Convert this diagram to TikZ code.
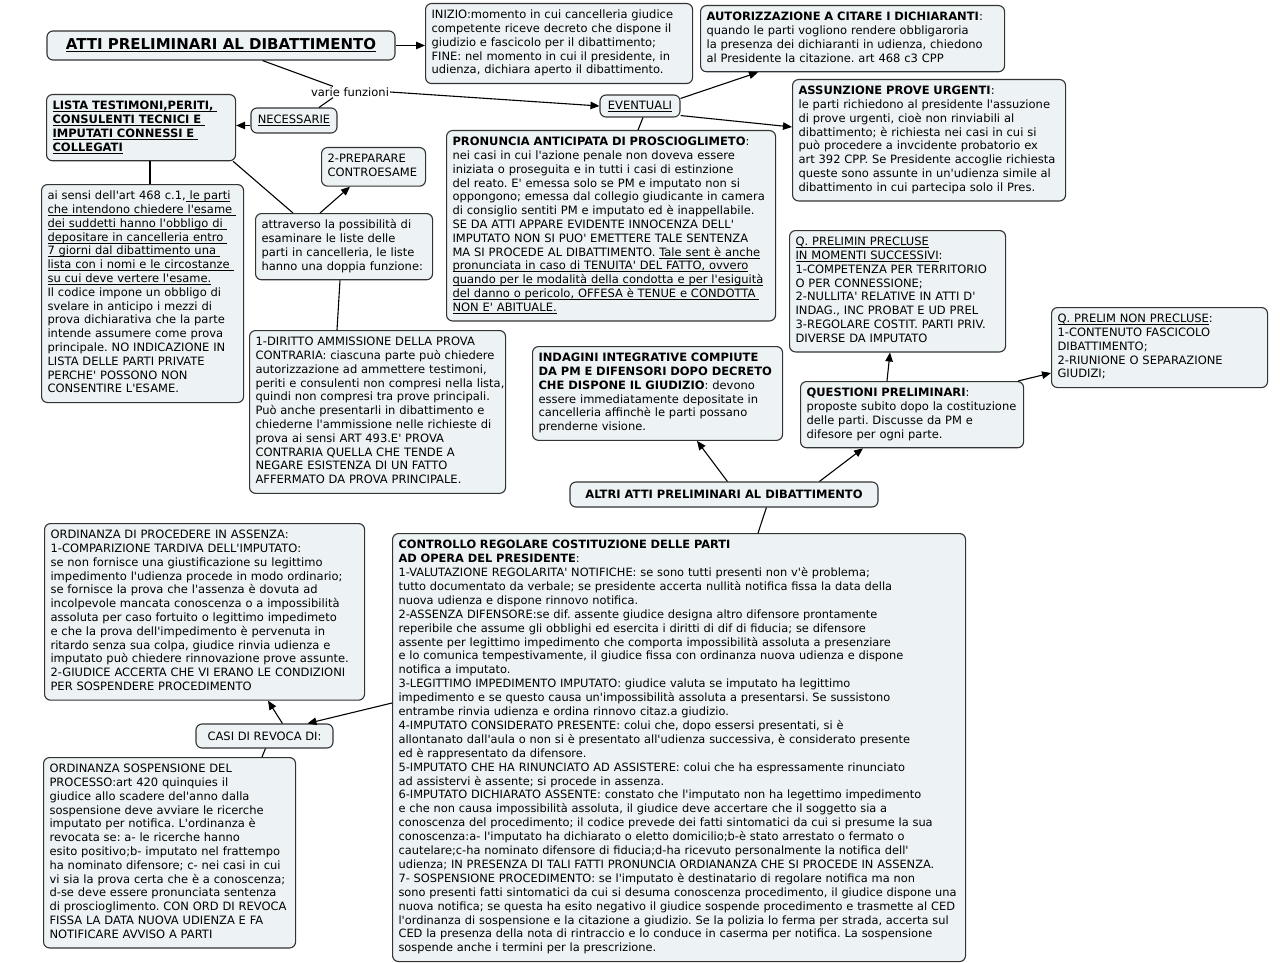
\documentclass[tikz,border=0pt]{standalone}
\usepackage{fontspec}
\setmainfont{DejaVu Sans}[Ligatures=TeXOff]
\usetikzlibrary{arrows.meta,calc}
\definecolor{boxfill}{HTML}{EDF2F4}
\definecolor{boxline}{HTML}{333333}
\frenchspacing
\newcommand\tb[1]{\begin{tabular}{@{}l@{}}#1\end{tabular}}
\newsavebox\ulbox
\newcommand\uln[1]{\sbox\ulbox{#1}\rlap{\rule[-2.2pt]{\wd\ulbox}{0.7pt}}\usebox\ulbox}
\tikzset{
 box/.style={draw=boxline, fill=boxfill, rounded corners=6pt, line width=1.1pt, inner xsep=6pt, inner ysep=5.5pt, align=left, anchor=north west, font=\fontsize{11.5}{13.8}\selectfont},
 sbox/.style={draw=boxline, fill=boxfill, rounded corners=6pt, line width=1.1pt, inner sep=2pt, font=\fontsize{11.5}{13.8}\selectfont},
 conn/.style={line width=1.1pt, draw=black},
 arr/.style={conn, -{Triangle[length=9pt,width=7.5pt]}},
}
\begin{document}
\begin{tikzpicture}[x=1pt,y=-1pt]
\useasboundingbox (0,0) rectangle (1280,963);
\fill[white] (0,0) rectangle (1280,963);

\node[sbox, minimum width=348pt, minimum height=29pt, font=\fontsize{15}{17}\selectfont\bfseries] (title) at (221,45.5) {\uln{ATTI PRELIMINARI AL DIBATTIMENTO}};

\node[box, text width=255pt] (inizio) at (425,3) {\tb{INIZIO:momento in cui cancelleria giudice\\
competente riceve decreto che dispone il\\
giudizio e fascicolo per il dibattimento;\\
FINE: nel momento in cui il presidente, in\\
udienza, dichiara aperto il dibattimento.}};

\node[box, text width=292pt] (autor) at (700,5) {\tb{\textbf{AUTORIZZAZIONE A CITARE I DICHIARANTI}:\\
quando le parti vogliono rendere obbligaroria\\
la presenza dei dichiaranti in udienza, chiedono\\
al Presidente la citazione. art 468 c3 CPP}};

\node[box, text width=261pt] (assunz) at (792,79) {\tb{\textbf{ASSUNZIONE PROVE URGENTI}:\\
le parti richiedono al presidente l'assuzione\\
di prove urgenti, cioè non rinviabili al\\
dibattimento; è richiesta nei casi in cui si\\
può procedere a invcidente probatorio ex\\
art 392 CPP. Se Presidente accoglie richiesta\\
queste sono assunte in un'udienza simile al\\
dibattimento in cui partecipa solo il Pres.}};

\node[font=\fontsize{11.5}{13.8}\selectfont, inner sep=1pt] (vf) at (350,92) {varie funzioni};

\node[sbox, minimum width=86pt, minimum height=25pt] (neces) at (294,120.5) {\uln{NECESSARIE}};

\node[box, text width=177pt] (lista) at (46,94) {\tb{\uln{\textbf{LISTA TESTIMONI,PERITI, }}\\
\uln{\textbf{CONSULENTI TECNICI E }}\\
\uln{\textbf{IMPUTATI CONNESSI E }}\\
\uln{\textbf{COLLEGATI}}}};

\node[sbox, minimum width=80pt, minimum height=22pt] (eventuali) at (640,106) {\uln{EVENTUALI}};

\node[box, text width=317pt] (pronuncia) at (446,130) {\tb{\textbf{PRONUNCIA ANTICIPATA DI PROSCIOGLIMETO}:\\
nei casi in cui l'azione penale non doveva essere\\
iniziata o proseguita e in tutti i casi di estinzione\\
del reato. E' emessa solo se PM e imputato non si\\
oppongono; emessa dal collegio giudicante in camera\\
di consiglio sentiti PM e imputato ed è inappellabile.\\
SE DA ATTI APPARE EVIDENTE INNOCENZA DELL'\\
IMPUTATO NON SI PUO' EMETTERE TALE SENTENZA\\
MA SI PROCEDE AL DIBATTIMENTO. \uln{Tale sent è anche}\\
\uln{pronunciata in caso di TENUITA' DEL FATTO, ovvero}\\
\uln{quando per le modalità della condotta e per l'esiguità}\\
\uln{del danno o pericolo, OFFESA è TENUE e CONDOTTA }\\
\uln{NON E' ABITUALE.}}};

\node[box, text width=190pt] (aisensi) at (41,184) {\tb{ai sensi dell'art 468 c.1,\uln{ le parti}\\
\uln{che intendono chiedere l'esame }\\
\uln{dei suddetti hanno l'obbligo di }\\
\uln{depositare in cancelleria entro }\\
\uln{7 giorni dal dibattimento una }\\
\uln{lista con i nomi e le circostanze }\\
\uln{su cui deve vertere l'esame.}\\
Il codice impone un obbligo di\\
svelare in anticipo i mezzi di\\
prova dichiarativa che la parte\\
intende assumere come prova\\
principale. NO INDICAZIONE IN\\
LISTA DELLE PARTI PRIVATE\\
PERCHE' POSSONO NON\\
CONSENTIRE L'ESAME.}};

\node[box, text width=92pt] (prep) at (321,147) {\tb{2-PREPARARE\\CONTROESAME}};

\node[box, text width=165pt] (attrav) at (255,213) {\tb{attraverso la possibilità di\\
esaminare le liste delle\\
parti in cancelleria, le liste\\
hanno una doppia funzione:}};

\node[box, text width=244pt] (diritto) at (249,330) {\tb{1-DIRITTO AMMISSIONE DELLA PROVA\\
CONTRARIA: ciascuna parte può chiedere\\
autorizzazione ad ammettere testimoni,\\
periti e consulenti non compresi nella lista,\\
quindi non compresi tra prove principali.\\
Può anche presentarli in dibattimento e\\
chiederne l'ammissione nelle richieste di\\
prova ai sensi ART 493.E' PROVA\\
CONTRARIA QUELLA CHE TENDE A\\
NEGARE ESISTENZA DI UN FATTO\\
AFFERMATO DA PROVA PRINCIPALE.}};

\node[box, text width=204pt] (qprec) at (789,230) {\tb{\uln{Q. PRELIMIN PRECLUSE}\\
\uln{IN MOMENTI SUCCESSIVI}:\\
1-COMPETENZA PER TERRITORIO\\
O PER CONNESSIONE;\\
2-NULLITA' RELATIVE IN ATTI D'\\
INDAG., INC PROBAT E UD PREL\\
3-REGOLARE COSTIT. PARTI PRIV.\\
DIVERSE DA IMPUTATO}};

\node[box, text width=204pt] (qnon) at (1051,307) {\tb{\uln{Q. PRELIM NON PRECLUSE}:\\
1-CONTENUTO FASCICOLO\\
DIBATTIMENTO;\\
2-RIUNIONE O SEPARAZIONE\\
GIUDIZI;}};

\node[box, text width=211pt] (quest) at (800,381) {\tb{\textbf{QUESTIONI PRELIMINARI}:\\
proposte subito dopo la costituzione\\
delle parti. Discusse da PM e\\
difesore per ogni parte.}};

\node[box, text width=238pt] (indag) at (532,346) {\tb{\textbf{INDAGINI INTEGRATIVE COMPIUTE}\\
\textbf{DA PM E DIFENSORI DOPO DECRETO}\\
\textbf{CHE DISPONE IL GIUDIZIO}: devono\\
essere immediatamente depositate in\\
cancelleria affinchè le parti possano\\
prenderne visione.}};

\node[sbox, minimum width=308pt, minimum height=25pt, font=\fontsize{11.5}{13.8}\selectfont\bfseries] (altri) at (724,494.5) {ALTRI ATTI PRELIMINARI AL DIBATTIMENTO};

\node[box, text width=561pt, font=\fontsize{11.4}{13.9}\selectfont] (controllo) at (392,533) {\tb{\textbf{CONTROLLO REGOLARE COSTITUZIONE DELLE PARTI}\\
\textbf{AD OPERA DEL PRESIDENTE}:\\
1-VALUTAZIONE REGOLARITA' NOTIFICHE: se sono tutti presenti non v'è problema;\\
tutto documentato da verbale; se presidente accerta nullità notifica fissa la data della\\
nuova udienza e dispone rinnovo notifica.\\
2-ASSENZA DIFENSORE:se dif. assente giudice designa altro difensore prontamente\\
reperibile che assume gli obblighi ed esercita i diritti di dif di fiducia; se difensore\\
assente per legittimo impedimento che comporta impossibilità assoluta a presenziare\\
e lo comunica tempestivamente, il giudice fissa con ordinanza nuova udienza e dispone\\
notifica a imputato.\\
3-LEGITTIMO IMPEDIMENTO IMPUTATO: giudice valuta se imputato ha legittimo\\
impedimento e se questo causa un'impossibilità assoluta a presentarsi. Se sussistono\\
entrambe rinvia udienza e ordina rinnovo citaz.a giudizio.\\
4-IMPUTATO CONSIDERATO PRESENTE: colui che, dopo essersi presentati, si è\\
allontanato dall'aula o non si è presentato all'udienza successiva, è considerato presente\\
ed è rappresentato da difensore.\\
5-IMPUTATO CHE HA RINUNCIATO AD ASSISTERE: colui che ha espressamente rinunciato\\
ad assistervi è assente; si procede in assenza.\\
6-IMPUTATO DICHIARATO ASSENTE: constato che l'imputato non ha legettimo impedimento\\
e che non causa impossibilità assoluta, il giudice deve accertare che il soggetto sia a\\
conoscenza del procedimento; il codice prevede dei fatti sintomatici da cui si presume la sua\\
conoscenza:a- l'imputato ha dichiarato o eletto domicilio;b-è stato arrestato o fermato o\\
cautelare;c-ha nominato difensore di fiducia;d-ha ricevuto personalmente la notifica dell'\\
udienza; IN PRESENZA DI TALI FATTI PRONUNCIA ORDIANANZA CHE SI PROCEDE IN ASSENZA.\\
7- SOSPENSIONE PROCEDIMENTO: se l'imputato è destinatario di regolare notifica ma non\\
sono presenti fatti sintomatici da cui si desuma conoscenza procedimento, il giudice dispone una\\
nuova notifica; se questa ha esito negativo il giudice sospende procedimento e trasmette al CED\\
l'ordinanza di sospensione e la citazione a giudizio. Se la polizia lo ferma per strada, accerta sul\\
CED la presenza della nota di rintraccio e lo conduce in caserma per notifica. La sospensione\\
sospende anche i termini per la prescrizione.}};

\node[box, text width=308pt] (ordproc) at (44,523) {\tb{ORDINANZA DI PROCEDERE IN ASSENZA:\\
1-COMPARIZIONE TARDIVA DELL'IMPUTATO:\\
se non fornisce una giustificazione su legittimo\\
impedimento l'udienza procede in modo ordinario;\\
se fornisce la prova che l'assenza è dovuta ad\\
incolpevole mancata conoscenza o a impossibilità\\
assoluta per caso fortuito o legittimo impedimeto\\
e che la prova dell'impedimento è pervenuta in\\
ritardo senza sua colpa, giudice rinvia udienza e\\
imputato può chiedere rinnovazione prove assunte.\\
2-GIUDICE ACCERTA CHE VI ERANO LE CONDIZIONI\\
PER SOSPENDERE PROCEDIMENTO}};

\node[sbox, minimum width=137pt, minimum height=24pt] (casi) at (264.5,736) {CASI DI REVOCA DI:};

\node[box, text width=240pt] (ordsosp) at (43,757) {\tb{ORDINANZA SOSPENSIONE DEL\\
PROCESSO:art 420 quinquies il\\
giudice allo scadere del'anno dalla\\
sospensione deve avviare le ricerche\\
imputato per notifica. L'ordinanza è\\
revocata se: a- le ricerche hanno\\
esito positivo;b- imputato nel frattempo\\
ha nominato difensore; c- nei casi in cui\\
vi sia la prova certa che è a conoscenza;\\
d-se deve essere pronunciata sentenza\\
di proscioglimento. CON ORD DI REVOCA\\
FISSA LA DATA NUOVA UDIENZA E FA\\
NOTIFICARE AVVISO A PARTI}};

% connectors
\draw[arr] (title.east) -- (title.east -| inizio.west);
\draw[conn] ([xshift=216pt]title.south west) -- ([xshift=-17pt]vf.north);
\draw[conn] ([xshift=-17pt]vf.south) -- ([xshift=25pt]neces.north);
\draw[arr] (vf.east) -- (eventuali.west);
\coordinate (nw1) at ([yshift=-5pt]neces.west);
\draw[arr] (nw1) -- (nw1 -| lista.east);
\draw[arr] ([yshift=-4pt]eventuali.north east) -- ([xshift=58pt]autor.south west);
\draw[arr] ([yshift=2pt]eventuali.south east) -- ([yshift=-48pt]assunz.north west);
\draw[conn] ([xshift=3pt]eventuali.south) -- ([xshift=192pt]pronuncia.north west);
\draw[conn] ([xshift=104pt]lista.south west) -- ([xshift=109pt]aisensi.north west);
\draw[conn] ([xshift=-3pt]lista.south east) -- ([xshift=38pt]attrav.north west);
\draw[arr] ([xshift=65pt]attrav.north west) -- ([xshift=29pt]prep.south west);
\draw[conn] ([xshift=85pt]attrav.south west) -- ([xshift=88pt]diritto.north west);
\draw[arr] ([xshift=87pt]quest.north west) -- ([xshift=101pt]qprec.south west);
\draw[arr] ([xshift=-6pt]quest.north east) -- ([yshift=-66pt]qnon.north west);
\draw[arr] ([xshift=158pt]altri.north west) -- ([xshift=165pt]indag.south west);
\draw[arr] ([xshift=250pt]altri.north west) -- ([xshift=63pt]quest.south west);
\draw[conn] ([xshift=197pt]altri.south west) -- ([xshift=366pt]controllo.north west);
\draw[arr] ([yshift=-170pt]controllo.north west) -- ([xshift=112pt]casi.north west);
\draw[arr] ([xshift=87pt]casi.north west) -- ([xshift=224pt]ordproc.south west);
\draw[conn] ([xshift=70pt]casi.south west) -- ([xshift=219pt]ordsosp.north west);
\end{tikzpicture}
\end{document}
